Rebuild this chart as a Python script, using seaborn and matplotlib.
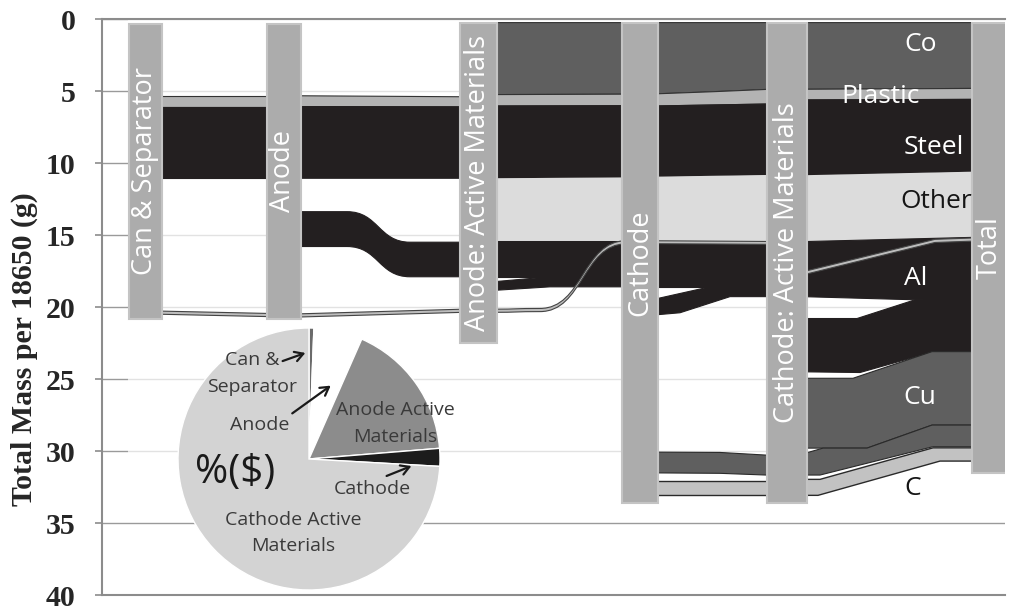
import numpy as np
import matplotlib
matplotlib.use("Agg")
import matplotlib.pyplot as plt
import seaborn as sns
from matplotlib.path import Path
from matplotlib.patches import PathPatch, Rectangle

# ------------------------------------------------------------------ data
stage_names = ["Can & Separator", "Anode", "Anode: Active Materials",
               "Cathode", "Cathode: Active Materials", "Total"]
stage_top = [0.35, 0.35, 0.3, 0.3, 0.3, 0.3]
stage_bottom = [20.8, 20.8, 22.5, 33.6, 33.6, 31.5]

# ribbons: (x of top edge, top mass, x of bottom edge, bottom mass)
co_segments = [
    ([493, 626], [0.25, 0.25], [493, 626], [5.25, 5.22]),
    ([655, 770], [0.25, 0.25], [655, 713, 770], [5.2, 5.05, 4.88]),
    ([803, 975], [0.25, 0.25], [803, 975], [4.88, 4.82]),
]
plastic_segments = [
    ([158, 270], [5.33, 5.33], [158, 270], [6.08, 6.08]),
    ([297, 463], [5.33, 5.4], [297, 463], [6.08, 6.1]),
    ([493, 626], [5.25, 5.22], [493, 626], [6.04, 6.02]),
    ([655, 713, 770], [5.2, 5.05, 4.88], [655, 770], [6.04, 5.9]),
    ([803, 975], [4.88, 4.82], [803, 975], [5.62, 5.58]),
]
steel_segments = [
    ([158, 270], [6.08, 6.08], [158, 270], [11.06, 11.06]),
    ([297, 463], [6.08, 6.1], [297, 463], [11.06, 11.06]),
    ([493, 626], [6.04, 6.02], [493, 626], [11.06, 11.0]),
    ([655, 770], [6.04, 5.9], [655, 770], [10.95, 10.83]),
    ([803, 975], [5.62, 5.58], [803, 975], [10.88, 10.6]),
]
other_segments = [
    ([493, 626], [11.06, 11.0], [493, 626], [15.4, 15.4]),
    ([655, 770], [10.95, 10.83], [655, 770], [15.4, 15.45]),
    ([803, 975], [10.85, 10.6], [803, 975], [15.46, 15.16]),
]
al_segments = [
    ([493, 626], [15.4, 15.4], [493, 626], [17.9, 17.9]),
    ([493, 550, 626], [18.25, 17.9, 17.9], [493, 550, 626], [18.85, 18.6, 18.6]),
    ([655, 770], [15.6, 15.6], [655, 770], [18.6, 18.6]),
    ([655, 713, 770], [19.45, 18.55, 18.55], [655, 680, 730, 770], [20.55, 20.4, 19.28, 19.28]),
    ([803, 975], [15.46, 15.16], [803, 915, 975], [19.28, 19.5, 19.5]),
    ([803, 857, 915, 975], [20.8, 20.8, 19.5, 19.45], [803, 860, 933, 975], [24.5, 24.55, 23.12, 23.1]),
]
anode_al_curve = ([297, 347, 410, 463], [13.38, 13.38, 15.5, 15.5],
                  [297, 347, 410, 463], [15.8, 15.8, 17.9, 17.9])
cu_segments = [
    ([803, 853, 932, 975], [24.95, 24.95, 23.1, 23.1], [803, 867, 932, 975], [29.8, 29.8, 28.2, 28.2]),
    ([655, 720, 770], [30.08, 30.1, 30.3], [655, 720, 770], [31.52, 31.55, 31.68]),
    ([803, 823, 867, 932, 975], [30.2, 29.8, 29.8, 28.2, 28.2], [803, 820, 933, 975], [31.67, 31.67, 29.7, 29.7]),
]
c_segments = [
    ([655, 770], [32.05, 32.05], [655, 770], [33.08, 33.08]),
    ([803, 820, 933, 975], [31.97, 31.97, 29.78, 29.78], [803, 818, 940, 975], [33.08, 33.08, 30.7, 30.7]),
]
thin_segments = [
    ([158, 270], [20.28, 20.45], [158, 270], [20.5, 20.67]),
    ([297, 463], [20.48, 20.15], [297, 463], [20.7, 20.37]),
    ([655, 770], [15.4, 15.45], [655, 770], [15.6, 15.65]),
    ([803, 935, 975], [17.55, 15.3, 15.2], [803, 935, 975], [17.77, 15.52, 15.42]),
]
thin_curve = ([493, 540, 626], [20.15, 20.1, 15.4], [493, 540, 626], [20.37, 20.32, 15.62])

material_labels = ["Co", "Plastic", "Steel", "Other", "Al", "Cu", "C"]
material_label_mass = [1.8, 5.35, 8.95, 12.7, 18.05, 26.25, 32.6]

pie_labels = ["Can & Separator", "Anode", "Anode Active Materials",
              "Cathode", "Cathode Active Materials"]
pie_share = [0.6, 6.0, 17.1, 2.2, 74.1]

# ------------------------------------------------------------------ layout / style
W, H = 1021, 614
stage_x = [145, 283.5, 478, 640, 786.5, 989.5]
stage_w = [33, 34, 37, 36, 40, 35]
label_x = [921, 881, 934, 936, 916, 920, 913]
label_col = ["white", "white", "white", "#151515", "white", "white", "#151515"]

DARK = "#231f20"
MID = "#5f5f5f"

sns.set_theme(style="white")
plt.rcParams["font.family"] = ["Open Sans", "DejaVu Sans"]

fig = plt.figure(figsize=(W / 100, H / 100), dpi=100)
ax = fig.add_axes([102 / W, 1 - 595 / H, 903 / W, 576 / H])
ax.set_xlim(102, 1005)
ax.set_ylim(40, 0)


def edge(xs, ys, smooth):
    verts, codes = [], []
    for i in range(1, len(xs)):
        if smooth:
            xm = (xs[i - 1] + xs[i]) / 2
            verts += [(xm, ys[i - 1]), (xm, ys[i]), (xs[i], ys[i])]
            codes += [Path.CURVE4] * 3
        else:
            verts.append((xs[i], ys[i]))
            codes.append(Path.LINETO)
    return verts, codes


def ribbon(seg, color, smooth=False, ec="#333333", lw=0.8, z=2):
    xt, yt, xb, yb = seg
    verts = [(xt[0], yt[0])]
    codes = [Path.MOVETO]
    v, c = edge(xt, yt, smooth)
    verts += v
    codes += c
    xr, yr = xb[::-1], yb[::-1]
    verts.append((xr[0], yr[0]))
    codes.append(Path.LINETO)
    v, c = edge(xr, yr, smooth)
    verts += v
    codes += c
    verts.append((xt[0], yt[0]))
    codes.append(Path.CLOSEPOLY)
    ax.add_patch(PathPatch(Path(verts, codes), facecolor=color,
                           edgecolor=ec, lw=lw, zorder=z))


# grid + translucent white field behind the flows
ax.set_yticks(range(0, 41, 5))
ax.grid(axis="y", color="#9a9a9a", lw=1)
ax.set_axisbelow(True)
ax.add_patch(Rectangle((128, 0), 1005 - 128, max(stage_bottom),
                       facecolor="white", alpha=0.72, lw=0, zorder=0.8))

for s in co_segments:
    ribbon(s, MID)
for s in plastic_segments:
    ribbon(s, "#b3b3b3")
for s in steel_segments:
    ribbon(s, DARK, ec=DARK)
for s in other_segments:
    ribbon(s, "#dcdcdc", ec="none")
for s in al_segments:
    ribbon(s, DARK, ec=DARK)
ribbon(anode_al_curve, DARK, smooth=True, ec=DARK)
for s in cu_segments:
    ribbon(s, MID, ec="#2a2a2a")
for s in c_segments:
    ribbon(s, "#c2c2c2", ec="#2a2a2a", lw=1.0)
for s in thin_segments:
    ribbon(s, "#bdbdbd", ec="#444444", lw=0.8, z=2.5)
ribbon(thin_curve, "#bdbdbd", smooth=True, ec="#444444", lw=0.8, z=2.5)

# stage bars
heights = [b - t for t, b in zip(stage_top, stage_bottom)]
ax.bar(stage_x, heights, bottom=stage_top, width=stage_w, color="#acacac",
       edgecolor="#c4c4c4", linewidth=1.5, zorder=3)
for name, x, t, b in zip(stage_names, stage_x, stage_top, stage_bottom):
    ax.text(x, (t + b) / 2, name, rotation=90, ha="center", va="center",
            color="white", fontsize=19.5, zorder=4)

for name, x, m, col in zip(material_labels, label_x, material_label_mass, label_col):
    ax.text(x, m, name, ha="center", va="center", color=col, fontsize=19, zorder=5)

# axes styling
for side in ["left", "top", "bottom"]:
    ax.spines[side].set_color("#8c8c8c")
    ax.spines[side].set_linewidth(1.5)
    ax.spines[side].set_zorder(6)
ax.spines["right"].set_visible(False)
ax.set_xticks([])
ax.tick_params(axis="y", direction="out", length=5, width=1.2, color="#8c8c8c",
               pad=14, left=True)
ax.set_yticklabels([str(v) for v in range(0, 41, 5)],
                   fontfamily="Liberation Serif", fontweight="bold", fontsize=21.5)
ax.set_ylabel("Total Mass per 18650 (g)", fontfamily="Liberation Serif",
              fontweight="bold", fontsize=21.5)
ax.yaxis.set_label_coords(-0.071, 0.427)

# inset pie of cost share
cx, cy, r = 309, 459, 131
pax = fig.add_axes([(cx - r) / W, 1 - (cy + r) / H, 2 * r / W, 2 * r / H])
pax.pie(pie_share, startangle=90, counterclock=False,
        colors=["#6b6b6b", "#ffffff", "#8c8c8c", "#1c1c1c", "#d3d3d3"],
        wedgeprops=dict(edgecolor="white", linewidth=1.0))
pax.set_xlim(-1, 1)
pax.set_ylim(-1, 1)
pax.set_aspect("equal")
pax.axis("off")


def fp(x, y):
    return x / W, 1 - y / H


pie_txt = "#3a3a3a"
for txt, (x, y) in [("Can &", (252, 360)), ("Separator", (252, 387)),
                    ("Anode", (260, 425)), ("Anode Active", (395, 410)),
                    ("Materials", (395, 437)), ("Cathode", (372, 489)),
                    ("Cathode Active", (293, 520)), ("Materials", (293, 546))]:
    fig.text(*fp(x, y), txt, ha="center", va="center", fontsize=14, color=pie_txt)
fig.text(*fp(235, 473), "%($)", ha="center", va="center", fontsize=29, color="#1a1a1a")

for tail, head in [((280, 362), (308, 352)), ((290, 415), (333, 384)),
                   ((384, 477), (414, 465))]:
    fig.add_artist(matplotlib.patches.FancyArrowPatch(
        (tail[0], H - tail[1]), (head[0], H - head[1]),
        transform=None, arrowstyle="->,head_length=6,head_width=3.5",
        lw=1.6, color="#1a1a1a"))

fig.savefig("out.png", dpi=100)
